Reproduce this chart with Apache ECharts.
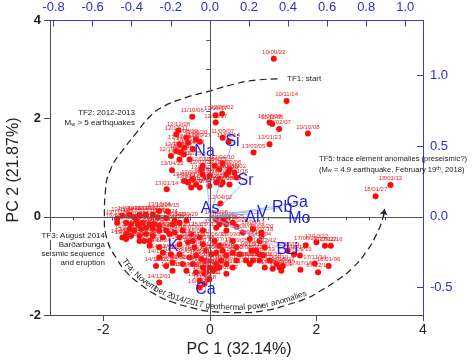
<!DOCTYPE html>
<html><head><meta charset="utf-8">
<script src="https://cdn.jsdelivr.net/npm/echarts@6/dist/echarts.min.js"></script>
<style>html,body{margin:0;padding:0;background:#fff}#main{width:474px;height:363px}</style>
</head><body><div id="main"></div>
<script>
const FONT = '"Liberation Sans", Arial, Helvetica, sans-serif';

// ---- PCA scores: [PC1, PC2, sampling date] ----
const ptsEarly = [
 [1.20,3.22,'10/09/22'],[1.44,2.36,'10/11/14'],[1.12,1.92,'16/08/09'],[1.17,1.89,'11/12/05'],
 [1.30,1.79,'12/02/07'],[1.84,1.70,'10/10/08'],[1.12,1.48,'12/01/23'],[0.82,1.31,'13/03/05'],
 [3.39,0.65,'18/01/13'],[3.11,0.42,'18/01/27']
];
const ptsUpper = [
 [-0.33,2.04,'11/10/06'],[0.11,2.07,'12/09/17'],[0.23,2.10,'12/06/02'],[0.11,1.92,'12/11/17'],
 [-0.59,1.76,'12/12/28'],[-0.63,1.68,'12/12/11'],[-0.44,1.61,'11/08/30'],[-0.26,1.58,'11/09/20'],
 [-0.19,1.53,'11/09/27'],[-0.41,1.51,'12/11/05'],[-0.57,1.48,'13/01/28'],[-0.48,1.41,'12/10/22'],
 [-0.32,1.38,'12/09/03'],[-0.63,1.34,'12/10/08'],[-0.54,1.31,'13/02/11'],[-0.49,1.27,'12/08/13'],
 [-0.73,1.24,'12/10/29'],[-0.38,1.17,'13/02/25'],[-0.57,1.17,'12/07/16'],[-0.71,0.95,'13/04/22'],
 [-0.16,0.97,'12/02/27'],[-0.13,1.04,'12/03/19'],[0.09,1.04,'12/04/25'],[0.18,0.97,'12/05/07'],
 [0.37,0.97,'12/02/06'],[0.34,0.90,'12/01/09'],[-0.01,0.83,'13/01/30'],[-0.07,0.80,'12/12/17'],
 [-0.14,0.87,'13/01/03'],[0.18,0.77,'12/06/18'],[0.24,0.70,'12/07/02'],[0.12,0.70,'12/05/21'],
 [-0.32,0.77,'13/02/04'],[-0.41,0.70,'13/03/18'],[-0.48,0.73,'13/01/21'],[-0.26,0.66,'12/11/26'],
 [-0.19,0.60,'13/02/18'],[-0.35,0.60,'12/12/03'],[-0.01,0.63,'12/03/05'],[0.21,0.66,'12/07/30'],
 [0.37,0.66,'12/08/28'],[0.50,0.80,'12/01/16'],[-0.81,0.56,'13/01/14'],[0.31,0.87,'12/02/20'],
 [0.35,1.53,'11/09/14'],[0.24,1.61,'11/09/07'],[0.24,1.08,'12/04/10'],[0.46,0.90,'12/01/02'],
 [0.20,0.27,'12/04/02']
];
const ptsLeft = [
 [-0.79,0.11,'13/09/15'],[-0.95,0.12,'13/10/14'],[-1.64,0.02,'13/11/11'],[-1.51,0.05,'14/01/20'],
 [-1.42,-0.01,'13/12/02'],[-1.32,0.04,'14/02/17'],[-1.20,0.05,'14/03/03'],[-1.07,0.05,'13/08/19'],
 [-0.98,-0.01,'13/07/22'],[-0.82,-0.03,'13/06/24'],[-0.66,-0.08,'13/05/27'],[-0.57,-0.12,'14/09/10'],
 [-0.44,-0.08,'14/09/29'],[-1.57,-0.12,'14/04/14'],[-1.48,-0.15,'14/05/12'],[-1.35,-0.15,'14/06/09'],
 [-1.26,-0.12,'14/07/07'],[-1.13,-0.15,'14/08/04'],[-1.04,-0.15,'14/08/18'],[-0.95,-0.18,'14/09/01'],
 [-1.38,-0.08,'14/03/24'],[-1.51,-0.25,'14/04/28'],[-1.42,-0.28,'14/05/26'],[-1.29,-0.25,'14/06/23'],
 [-1.20,-0.22,'14/07/21'],[-1.07,-0.25,'14/08/25'],[-0.95,-0.28,'14/09/08'],[-0.82,-0.28,'14/09/22'],
 [-1.57,-0.35,'14/02/03'],[-1.48,-0.39,'14/10/06'],[-1.32,-0.39,'14/10/13'],[-1.20,-0.35,'14/09/15'],
 [-1.07,-0.39,'14/10/20'],[-1.64,-0.42,'14/01/06'],[-1.32,-0.49,'14/10/02'],[-1.23,-0.49,'14/10/09'],
 [-1.13,-0.49,'14/10/26'],[-1.57,-0.45,'13/12/16'],[-0.88,-0.42,'14/11/03'],[-0.66,-0.32,'14/11/10'],
 [-0.51,-0.28,'15/01/12'],[-0.70,-0.15,'14/10/27'],[-0.35,-0.35,'15/02/09'],[-0.32,-0.49,'15/03/09'],
 [-0.19,-0.42,'15/04/13'],[-1.13,-0.59,'14/10/30'],[-0.95,-0.62,'14/11/24'],[-1.74,-0.12,'13/10/28'],
 [-1.74,-0.04,'13/11/25']
];
const ptsLower = [
 [-0.76,-0.35,'14/11/17'],[-0.57,-0.42,'15/01/26'],[-0.13,-0.28,'15/05/11'],[0.12,-0.22,'15/06/08'],
 [0.31,-0.28,'15/07/06'],[0.18,-0.15,'16/01/11'],[-0.57,-0.56,'15/02/23'],[-0.41,-0.52,'15/03/23'],
 [-0.29,-0.62,'15/04/20'],[-0.13,-0.56,'15/05/18'],[0.09,-0.49,'15/06/15'],[0.18,-0.59,'15/07/13'],
 [0.24,-0.69,'15/08/10'],[0.12,-0.73,'15/09/07'],[0.03,-0.76,'15/10/05'],[0.31,-0.79,'15/11/02'],
 [0.43,-0.73,'15/12/07'],[0.56,-0.76,'16/02/08'],[0.21,-0.89,'16/03/07'],[0.12,-0.96,'16/04/04'],
 [0.31,-0.96,'16/05/02'],[0.50,-0.89,'16/05/30'],[0.68,-0.89,'16/06/27'],[0.81,-0.89,'16/08/22'],
 [0.93,-0.89,'16/09/19'],[0.78,-0.69,'16/10/17'],[0.93,-0.76,'16/11/14'],[1.03,-0.62,'16/12/12'],
 [-0.07,-0.89,'15/10/19'],[-0.16,-0.86,'15/09/21'],[-0.26,-0.79,'15/08/24'],[-0.38,-0.83,'15/07/27'],
 [-0.57,-0.76,'15/06/29'],[-0.73,-0.76,'14/12/15'],[-0.88,-0.73,'14/12/08'],[-0.95,-0.83,'14/11/25'],
 [-0.70,-0.93,'14/12/22'],[-0.51,-0.96,'15/01/19'],[-0.32,-0.96,'15/02/16'],[-0.13,-1.03,'15/03/16'],
 [-0.01,-1.03,'15/04/27'],[-0.26,-1.13,'15/05/25'],[-0.07,-1.13,'15/06/22'],[0.06,-1.10,'15/07/20'],
 [0.31,-1.16,'15/08/17'],[-0.44,-1.10,'15/09/14'],[-0.70,-1.10,'14/12/29'],[-0.82,-1.00,'14/12/05'],
 [-1.01,-1.00,'14/11/18'],[-0.95,-1.34,'14/12/01'],[-0.19,-1.30,'16/02/22'],[-0.04,-1.27,'16/03/21'],
 [-0.19,-1.44,'16/01/04'],[-0.10,-1.37,'16/04/18'],[0.18,-1.03,'15/11/16'],[0.43,-1.03,'15/12/14']
];
const ptsMid = [
 [0.12,-0.05,'16/01/18'],[0.31,-0.15,'16/02/15'],[0.43,-0.12,'16/01/25'],[0.62,-0.32,'15/08/09'],
 [0.81,-0.25,'16/06/13'],[0.97,-0.39,'16/07/18'],[0.93,-0.49,'16/07/04'],[0.97,-0.32,'16/06/20'],
 [0.75,-0.45,'16/05/16'],[0.43,-0.49,'16/03/14'],[0.50,-0.62,'17/03/25'],[0.87,-0.69,'17/03/16'],
 [1.00,-0.79,'17/02/13'],[1.12,-0.89,'17/01/16'],[1.25,-0.96,'17/04/10'],[1.31,-1.03,'17/05/08'],
 [1.03,-1.03,'17/06/05'],[1.18,-1.06,'17/06/19'],[1.34,-1.10,'17/07/03'],[1.37,-1.00,'17/05/22'],
 [0.75,-0.96,'16/12/27'],[-0.07,-0.69,'15/11/30'],[0.09,-1.06,'16/05/09'],[-0.10,-1.16,'16/06/06'],
 [-0.01,-1.27,'16/07/11'],[0.25,-0.08,'16/02/29'],[0.50,-0.20,'16/03/28']
];
const ptsRight = [
 [2.00,-0.52,'17/10/22'],[2.16,-0.59,'17/09/22'],[2.27,-0.59,'17/12/16'],[1.80,-0.58,'17/08/29'],
 [1.69,-0.79,'17/09/19'],[1.97,-0.95,'17/11/14'],[2.23,-1.00,'18/01/06'],[2.03,-1.13,'17/12/19'],
 [1.70,-1.08,'17/07/18'],[1.58,-0.76,'17/08/14'],[1.46,-0.69,'17/10/09']
];

// ---- loadings (secondary axes) ----
const loadNames = ['Si','Na','Sr','As','Al','V','Rb','Ga','Mo','B','Li','K','Ca'];
const loadPC1 = [0.116,-0.027,0.183,0.001,0.218,0.268,0.370,0.447,0.458,0.369,0.420,-0.188,-0.023];
const loadPC2 = [0.535,0.460,0.255,0.060,-0.005,0.028,0.066,0.100,-0.013,-0.230,-0.230,-0.211,-0.516];

// ---- tick values ----
const pc1Ticks = [-2,0,2,4], pc1Minor = [-3,-1,1,3];
const pc2Ticks = [-2,0,2,4], pc2Minor = [-1,1,3];
const ld1Ticks = [-0.8,-0.6,-0.4,-0.2,0,0.2,0.4,0.6,0.8,1.0];
const ld1Minor = [-0.7,-0.5,-0.3,-0.1,0.1,0.3,0.5,0.7,0.9];
const ld2Ticks = [-0.5,0,0.5,1.0], ld2Minor = [-0.25,0.25,0.75,1.25];
const pc1Range = [-3,4], pc2Range = [-2,4];
const ld1Range = [-0.8181,1.0908], ld2Range = [-0.6954,1.3908];

// ---- time-frame arc (TF1 -> TF5) in PC units ----
const tfArcX = [1.27,0.90,0.37,-0.01,-0.48,-0.95,-1.17,-1.38,-1.62,-1.85,-1.96,-1.98,-1.92,-1.75,-1.57,-1.32,-1.04,-0.72,-0.34,0.05,0.56,1.03,1.46,1.84,2.01,2.38,2.68,2.95,3.13,3.25,3.28];
const tfArcY = [2.81,2.79,2.68,2.56,2.42,2.20,1.99,1.71,1.38,1.00,0.53,-0.02,-0.49,-0.85,-1.12,-1.36,-1.57,-1.73,-1.85,-1.93,-1.95,-1.91,-1.79,-1.65,-1.55,-1.30,-1.04,-0.69,-0.35,-0.02,0.16];
const arcTextFrom = 13, arcTextTo = 23;
const arcLabel = 'TF4: November 2014/2017 geothermal power anomalies';

const scores = [].concat(ptsEarly, ptsUpper, ptsLeft, ptsLower, ptsMid, ptsRight);

const chart = echarts.init(document.getElementById('main'), null, {renderer:'canvas'});
const BLUE = '#2b2bd2', AXBLUE = '#3a3ad6', DARK = '#4a4a4a';
const gridBox = {left:50, right:51, top:20.5, bottom:48};

function majorAxis(pos, range, ticks, color, labelOpt, inside, extra) {
  return Object.assign({
    type:'value', position:pos, min:range[0], max:range[1],
    axisLine:{show:true, onZero:false, lineStyle:{color, width:1}},
    axisTick:{show:true, inside, length:6, customValues:ticks, lineStyle:{color, width:1}},
    axisLabel:Object.assign({show:true, customValues:ticks, fontFamily:FONT}, labelOpt),
    splitLine:{show:false}
  }, extra||{});
}
function minorAxis(pos, range, ticks, color, inside, extra) {
  return Object.assign({
    type:'value', gridIndex:1, position:pos, min:range[0], max:range[1],
    axisLine:{show:false},
    axisTick:{show:true, inside, length:3.5, customValues:ticks, lineStyle:{color, width:1}},
    axisLabel:{show:false}, splitLine:{show:false}
  }, extra||{});
}
const fmt1 = v => Number(v).toFixed(1);

const option = {
  animation:false,
  backgroundColor:'#fff',
  grid:[Object.assign({}, gridBox), Object.assign({}, gridBox)],
  xAxis:[
    majorAxis('bottom', pc1Range, pc1Ticks, DARK, {fontSize:14, color:'#222', margin:8}, false, {gridIndex:0}),
    majorAxis('top', ld1Range, ld1Ticks, AXBLUE, {fontSize:13, color:BLUE, margin:7, formatter:fmt1}, true, {gridIndex:0}),
    minorAxis('bottom', pc1Range, pc1Minor, DARK, false),
    minorAxis('top', ld1Range, ld1Minor, AXBLUE, true)
  ],
  yAxis:[
    majorAxis('left', pc2Range, pc2Ticks, DARK, {fontSize:13, fontWeight:'bold', color:'#222', margin:9}, false, {gridIndex:0}),
    majorAxis('right', ld2Range, ld2Ticks, AXBLUE, {fontSize:13, color:BLUE, margin:7, formatter:fmt1}, true, {gridIndex:0}),
    minorAxis('left', pc2Range, pc2Minor, DARK, false),
    minorAxis('right', ld2Range, ld2Minor, AXBLUE, true)
  ],
  series:[
    {
      type:'scatter', xAxisIndex:0, yAxisIndex:0, z:3,
      data: scores.map(p => ({value:[p[0], p[1]], name:p[2]})),
      symbol:'circle', symbolSize:6,
      itemStyle:{color:'#ff0a0a', opacity:1},
      label:{show:true, position:'top', distance:0.5, formatter:p => p.name,
             fontSize:6, fontFamily:FONT, color:'#ee2020'},
      emphasis:{disabled:true},
      markLine:{silent:true, symbol:['none','none'], animation:false,
        label:{show:false}, lineStyle:{color:'#555', width:1, type:'solid'},
        data:[{xAxis:0},{yAxis:0}]}
    },
    {
      type:'line', xAxisIndex:0, yAxisIndex:0, z:2,
      data: tfArcX.map((x,i) => [x, tfArcY[i]]),
      smooth:0.5, showSymbol:false, symbol:'none',
      lineStyle:{color:'#222', width:1.2, type:[7,4]}
    },
    {
      type:'lines', coordinateSystem:'cartesian2d', xAxisIndex:0, yAxisIndex:0, z:2,
      symbol:['none','arrow'], symbolSize:6,
      lineStyle:{color:'#222', width:1.2, opacity:1},
      data:[{coords:[[tfArcX[tfArcX.length-2], tfArcY[tfArcY.length-2]], [tfArcX[tfArcX.length-1], tfArcY[tfArcY.length-1]]]}]
    },
    {
      type:'lines', coordinateSystem:'cartesian2d', xAxisIndex:1, yAxisIndex:1, z:4,
      lineStyle:{color:'#8aa2e6', width:0.8, opacity:1},
      data: loadNames.map((n,i) => ({coords:[[0,0],[loadPC1[i], loadPC2[i]]]}))
    },
    {
      type:'scatter', xAxisIndex:1, yAxisIndex:1, z:5,
      data: loadNames.map((n,i) => ({value:[loadPC1[i], loadPC2[i]], name:n})),
      symbol:'circle', symbolSize:2, itemStyle:{color:'rgba(0,0,0,0)'},
      label:{show:true, position:'inside', formatter:p => p.name, fontSize:16, fontFamily:FONT,
             color:'#1f1fd8', opacity:1},
      labelLayout:{hideOverlap:false},
      emphasis:{disabled:true}
    }
  ]
};
chart.setOption(option);

function T(x, y, text, st, extra) {
  return Object.assign({type:'text', x, y, z:100, silent:true,
    style:Object.assign({text, fontSize:8, fontFamily:FONT, fill:'#222', align:'left', verticalAlign:'middle'}, st||{})}, extra||{});
}
const subRich = {s:{fontSize:5.5, fontFamily:FONT, fill:'#222', verticalAlign:'bottom', lineHeight:7}};
const supRich = {t:{fontSize:5.5, fontFamily:FONT, fill:'#222', verticalAlign:'top', lineHeight:7}};
const statics = [
  T(287, 79, 'TF1: start'),
  T(135, 113, 'TF2: 2012-2013', {align:'right'}),
  T(135, 123, 'M{s|w} > 5 earthquakes', {align:'right', rich:subRich}),
  T(105, 236, 'TF3: August 2014', {align:'right', backgroundColor:'#fff'}),
  T(105, 245, 'Barðarbunga', {align:'right', backgroundColor:'#fff'}),
  T(105, 254, 'seismic sequence', {align:'right', backgroundColor:'#fff'}),
  T(105, 263, 'and eruption', {align:'right', backgroundColor:'#fff'}),
  T(319, 159, 'TF5: trace element anomalies (preseismic?)', {fontSize:7.6}),
  T(319, 169.5, '(M{s|w} = 4.9 earthquake, February 19{t|th}, 2018)', {fontSize:7.6, rich:Object.assign({}, subRich, supRich)}),
  T(239, 350, 'PC 1 (32.14%)', {fontSize:16, align:'center'}),
  T(14, 170, 'PC 2 (21.87%)', {fontSize:16, align:'center'}, {rotation:Math.PI/2})
];

function arcText() {
  const pts = [];
  for (let i = arcTextFrom; i <= arcTextTo; i++) pts.push(chart.convertToPixel({seriesIndex:1}, [tfArcX[i], tfArcY[i]]));
  const cum = [0];
  for (let i = 1; i < pts.length; i++) cum.push(cum[i-1] + Math.hypot(pts[i][0]-pts[i-1][0], pts[i][1]-pts[i-1][1]));
  const L = cum[cum.length-1];
  const ctx = document.createElement('canvas').getContext('2d');
  const base = 8;
  ctx.font = base + 'px ' + FONT;
  const chars = Array.from(arcLabel);
  const widths = chars.map(c => ctx.measureText(c).width);
  const W = widths.reduce((a,b) => a+b, 0);
  const s0 = 5;
  const fs = Math.max(6.5, Math.min(9, base*(L - s0)/W));
  const k = fs/base;
  const out = [];
  let s = s0;
  for (let j = 0; j < chars.length; j++) {
    const w = widths[j]*k;
    const mid = s + w/2;
    let i = 1; while (i < cum.length-1 && cum[i] < mid) i++;
    const p0 = pts[i-1], p1 = pts[i];
    const dx = p1[0]-p0[0], dy = p1[1]-p0[1], len = Math.hypot(dx,dy);
    const t = (mid - cum[i-1]) / len;
    const px = p0[0] + dx*t, py = p0[1] + dy*t;
    const nx = dy/len, ny = -dx/len;
    const off = fs*0.5 + 0.8;
    out.push({type:'text', x:px + nx*off, y:py + ny*off, rotation:-Math.atan2(dy,dx), z:100, silent:true,
      style:{text:chars[j], fontSize:fs, fontFamily:FONT, fill:'#222', align:'center', verticalAlign:'middle'}});
    s += w;
  }
  return out;
}
chart.setOption({graphic: statics.concat(arcText())});
</script></body></html>
